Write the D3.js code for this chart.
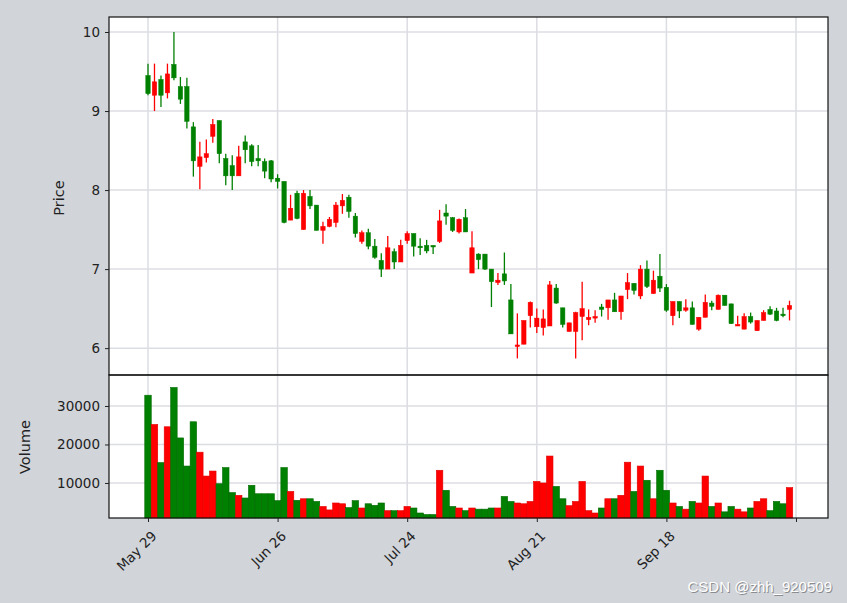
<!DOCTYPE html>
<html><head><meta charset="utf-8">
<script src="https://cdn.jsdelivr.net/npm/d3@7"></script>
<style>body{margin:0;background:#d1d4d9;}svg{display:block;font-family:"DejaVu Sans",sans-serif;}</style>
</head><body><svg id="c" width="847" height="603"></svg>
<script>
const opens  = [9.45,9.20,9.40,9.23,9.59,9.31,9.31,8.80,8.30,8.41,8.68,8.88,8.40,8.31,8.18,8.61,8.56,8.40,8.36,8.37,8.15,8.11,7.62,7.96,7.50,7.92,7.81,7.49,7.54,7.59,7.80,7.91,7.67,7.35,7.46,7.29,7.11,7.00,7.22,7.09,7.36,7.45,7.29,7.30,7.30,7.35,7.71,7.65,7.47,7.65,6.95,7.19,7.19,7.00,6.83,6.94,6.61,6.02,6.05,6.41,6.27,6.26,6.28,6.76,6.51,6.21,6.21,6.40,6.36,6.38,6.52,6.51,6.61,6.46,6.74,6.82,6.66,7.00,6.69,6.91,6.77,6.41,6.59,6.48,6.51,6.24,6.39,6.57,6.49,6.67,6.56,6.28,6.24,6.40,6.22,6.35,6.49,6.47,6.43,6.49];
const closes = [9.22,9.37,9.20,9.47,9.42,9.15,8.87,8.37,8.42,8.46,8.83,8.46,8.18,8.18,8.42,8.51,8.36,8.37,8.24,8.14,8.11,7.59,7.77,7.64,7.96,7.80,7.49,7.54,7.63,7.81,7.87,7.73,7.45,7.46,7.29,7.15,7.00,7.27,7.09,7.30,7.45,7.29,7.27,7.23,7.28,7.61,7.67,7.49,7.63,7.47,7.27,7.12,7.00,6.84,6.86,6.85,6.18,6.04,6.35,6.58,6.38,6.37,6.80,6.57,6.30,6.32,6.45,6.50,6.39,6.40,6.49,6.61,6.46,6.66,6.83,6.73,7.00,6.78,6.86,6.76,6.48,6.59,6.47,6.51,6.30,6.39,6.58,6.53,6.67,6.54,6.31,6.30,6.40,6.33,6.35,6.45,6.43,6.35,6.41,6.54];
const highs  = [9.60,9.60,9.45,9.60,10.0,9.43,9.42,8.86,8.61,8.64,8.90,8.88,8.46,8.44,8.56,8.69,8.58,8.57,8.40,8.38,8.20,8.11,7.94,7.99,8.00,8.00,7.81,7.60,7.66,7.85,7.95,7.94,7.71,7.49,7.51,7.38,7.20,7.42,7.26,7.37,7.48,7.45,7.39,7.37,7.30,7.75,7.82,7.66,7.64,7.76,7.48,7.20,7.19,7.00,6.95,7.21,6.81,6.44,6.35,6.59,6.50,6.49,6.85,6.81,6.51,6.32,6.46,6.84,6.49,6.48,6.56,6.61,6.70,6.66,6.95,6.82,7.05,7.11,6.98,7.19,6.81,6.59,6.59,6.62,6.59,6.39,6.68,6.60,6.68,6.67,6.56,6.41,6.44,6.45,6.35,6.48,6.53,6.51,6.51,6.60];
const lows   = [9.20,9.00,9.05,9.16,9.39,9.09,8.78,8.17,8.01,8.35,8.60,8.34,8.06,8.00,8.18,8.34,8.30,8.30,8.15,8.10,8.02,7.58,7.62,7.63,7.50,7.76,7.49,7.32,7.53,7.53,7.70,7.65,7.40,7.32,7.25,7.13,6.90,7.00,7.00,7.09,7.32,7.16,7.18,7.20,7.19,7.33,7.56,7.47,7.45,7.47,6.95,7.00,6.99,6.52,6.80,6.80,6.18,5.87,6.05,6.26,6.19,6.16,6.28,6.56,6.26,6.21,5.87,6.10,6.29,6.32,6.40,6.36,6.46,6.36,6.62,6.68,6.62,6.76,6.69,6.71,6.46,6.29,6.38,6.46,6.30,6.22,6.39,6.48,6.49,6.54,6.31,6.28,6.24,6.31,6.22,6.35,6.42,6.34,6.39,6.35];
const volumes= [32800,25200,15300,24600,34800,21700,14400,25900,18000,11800,13100,9800,14000,7500,6800,6100,9400,7200,7200,7200,5400,14000,7800,5500,5900,5900,5200,3900,3000,4800,4600,3600,5400,3500,4600,4200,4800,2800,2800,2800,3900,3500,2200,1800,1800,13300,8100,3900,3500,2800,3500,3200,3200,3500,3500,6500,5200,4800,4600,5200,10400,10000,17000,9100,5900,4100,5200,10400,2800,2200,3500,5900,5900,6800,15400,7800,14400,10700,5900,13300,8100,4800,3900,3200,5200,4800,11800,3900,4800,2500,3900,3200,2500,3500,5200,5900,2800,5200,4600,8800];
const xTickIdx = [0,20,40,60,80,100];
const xTickLabels = ["May 29","Jun 26","Jul 24","Aug 21","Sep 18",""];
const priceTicks = [6,7,8,9,10];
const volTicks = [10000,20000,30000];

const svg = d3.select("#c");
const L=109,R=828,T=17,M=375,B=518;
svg.append("rect").attr("x",0).attr("y",0).attr("width",847).attr("height",603).attr("fill","#d1d4d9");
svg.append("rect").attr("x",L).attr("y",T).attr("width",R-L).attr("height",B-T).attr("fill","#fff");
const x = d3.scaleLinear().domain([-6.02,104.94]).range([L,R]);
const yp = d3.scaleLinear().domain([5.66,10.19]).range([M,T]);
const yv = d3.scaleLinear().domain([900,38050]).range([B,M]);
const grid="#dcdde3";
const gp = svg.append("g");
xTickIdx.forEach(i=>{gp.append("line").attr("x1",x(i)).attr("x2",x(i)).attr("y1",T).attr("y2",B).attr("stroke",grid).attr("stroke-width",1.5);});
priceTicks.forEach(v=>{gp.append("line").attr("x1",L).attr("x2",R).attr("y1",yp(v)).attr("y2",yp(v)).attr("stroke",grid).attr("stroke-width",1.5);});
volTicks.forEach(v=>{gp.append("line").attr("x1",L).attr("x2",R).attr("y1",yv(v)).attr("y2",yv(v)).attr("stroke",grid).attr("stroke-width",1.5);});

const col = i=> closes[i]>=opens[i] ? "#ff0000" : "#008000";
const cg = svg.append("g");
const bw = 4.4;
opens.forEach((o,i)=>{
  const c=col(i), cx=x(i);
  cg.append("line").attr("x1",cx).attr("x2",cx).attr("y1",yp(highs[i])).attr("y2",yp(lows[i])).attr("stroke",c).attr("stroke-width",1.3);
  const t=yp(Math.max(o,closes[i])), b=yp(Math.min(o,closes[i]));
  cg.append("rect").attr("x",cx-bw/2).attr("y",t).attr("width",bw).attr("height",Math.max(b-t,1.2)).attr("fill",c).attr("stroke",c).attr("stroke-width",0.5);
});
const vg = svg.append("g");
const vw = x(1)-x(0);
volumes.forEach((v,i)=>{
  const c=col(i);
  vg.append("rect").attr("x",x(i)-vw/2).attr("y",yv(v)).attr("width",vw).attr("height",B-yv(v)).attr("fill",c).attr("stroke",c==="#ff0000"?"#e00000":"#006a00").attr("stroke-width",0.6);
});
svg.append("rect").attr("x",L).attr("y",T).attr("width",R-L).attr("height",M-T).attr("fill","none").attr("stroke","#111").attr("stroke-width",1.2);
svg.append("rect").attr("x",L).attr("y",M).attr("width",R-L).attr("height",B-M).attr("fill","none").attr("stroke","#111").attr("stroke-width",1.2);
const ap = svg.append("g").attr("transform",`translate(${L},0)`).call(d3.axisLeft(yp).tickValues(priceTicks).tickFormat(d3.format("d")).tickSize(4).tickPadding(5));
const av = svg.append("g").attr("transform",`translate(${L},0)`).call(d3.axisLeft(yv).tickValues(volTicks).tickFormat(d=>String(d)).tickSize(4).tickPadding(5));
const ax = svg.append("g").attr("transform",`translate(0,${B})`).call(d3.axisBottom(x).tickValues(xTickIdx).tickFormat((d,i)=>xTickLabels[i]).tickSize(4));
[ap,av,ax].forEach(g=>{g.select(".domain").remove();g.selectAll("text").attr("font-size",13.5).attr("fill","#222").attr("font-family","DejaVu Sans");g.selectAll(".tick line").attr("stroke","#222");});
ax.selectAll("text").attr("text-anchor","end").attr("dx",0).attr("dy",0).attr("transform","translate(4,14) rotate(-45)");
svg.append("text").attr("transform","translate(64,198) rotate(-90)").attr("text-anchor","middle").attr("font-size",14.5).attr("fill","#222").text("Price");
svg.append("text").attr("transform","translate(30,447) rotate(-90)").attr("text-anchor","middle").attr("font-size",14.5).attr("fill","#222").text("Volume");
const wm = "CSDN @zhh_920509";
svg.append("text").attr("x",833).attr("y",593).attr("text-anchor","end").attr("font-size",15).attr("fill","#8a8c90").attr("font-family","Liberation Sans").text(wm);
svg.append("text").attr("x",832).attr("y",592).attr("text-anchor","end").attr("font-size",15).attr("fill","#ffffff").attr("font-family","Liberation Sans").text(wm);
</script></body></html>
